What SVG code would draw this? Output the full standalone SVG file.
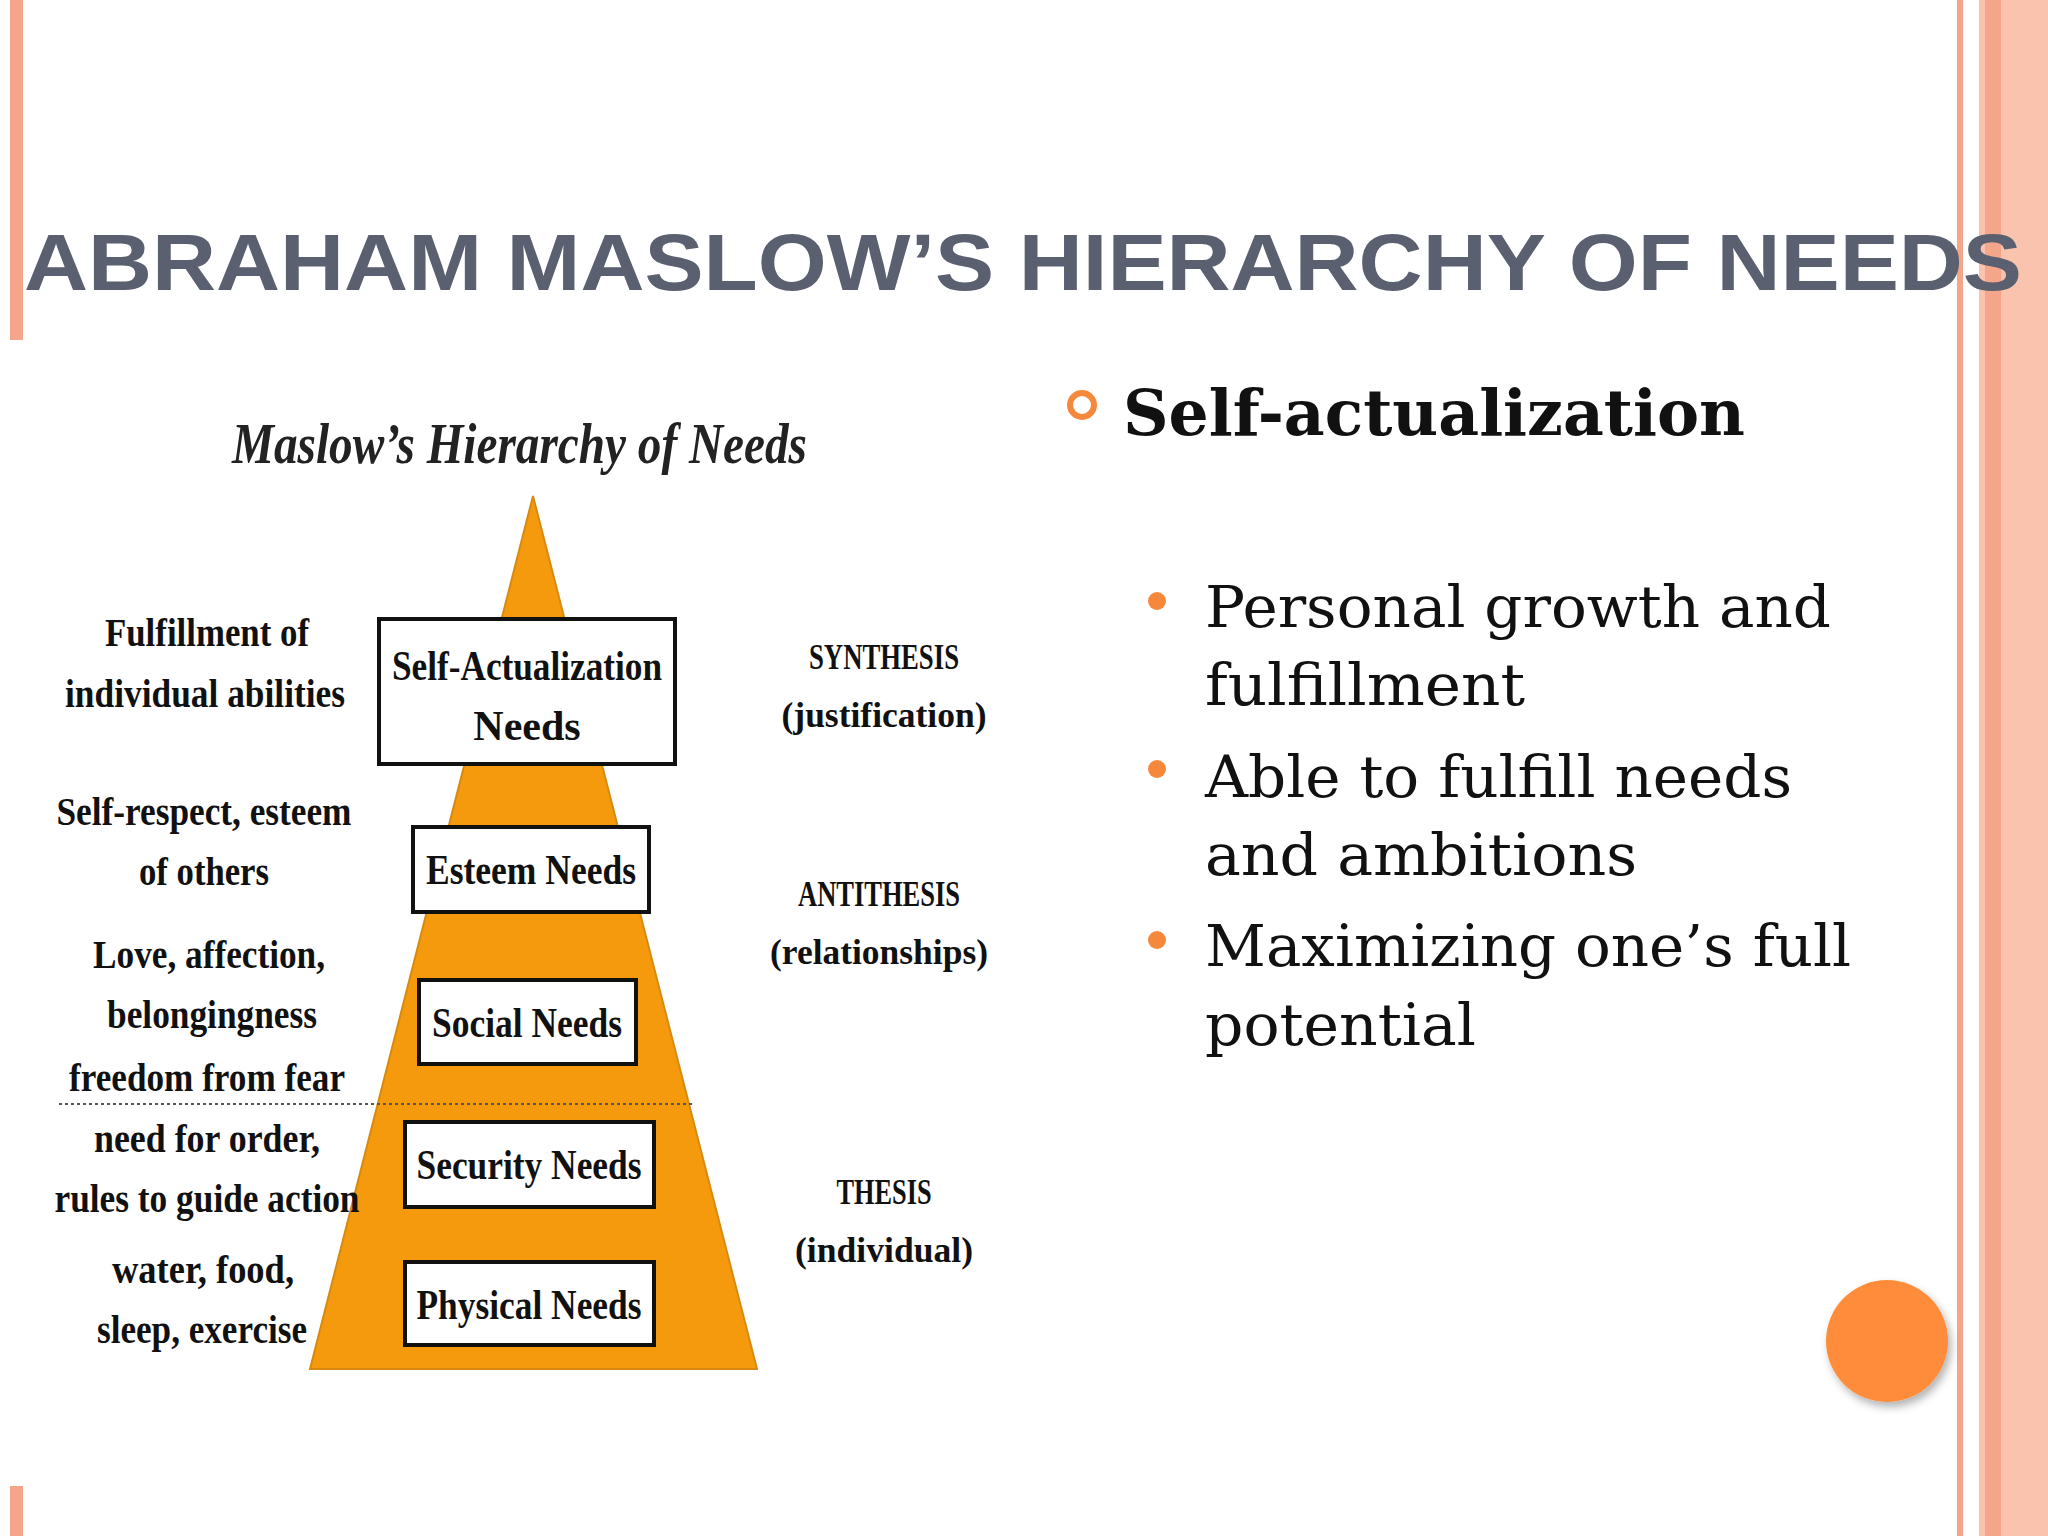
<svg xmlns="http://www.w3.org/2000/svg" width="2048" height="1536" viewBox="0 0 2048 1536">
<defs>
<style>
.lt{font-family:"Liberation Serif",serif;font-weight:bold;font-size:40px;fill:#111;text-anchor:middle}
.rt{font-family:"Liberation Serif",serif;font-weight:bold;font-size:36px;fill:#111;text-anchor:middle}
.bx{fill:#fff;stroke:#111;stroke-width:4}
.bt{font-family:"Liberation Serif",serif;font-weight:bold;font-size:42px;fill:#111;text-anchor:middle}
.sb{font-family:"DejaVu Serif",serif;font-size:58px;fill:#111}
.dot{fill:#F5883A}
</style>
<filter id="sh" x="-30%" y="-30%" width="160%" height="160%"><feDropShadow dx="3" dy="5" stdDeviation="4" flood-opacity="0.3"/></filter>
</defs>
<rect width="2048" height="1536" fill="#fff"/>
<rect x="10" y="0" width="13" height="340" fill="#F4A58A"/>
<rect x="10" y="1486" width="13" height="50" fill="#F4A58A"/>
<rect x="1957" y="0" width="6" height="1536" fill="#F4A58A"/>
<rect x="1979" y="0" width="69" height="1536" fill="#F9C3AE"/>
<rect x="1985" y="0" width="16" height="1536" fill="#F4A58A"/>
<text x="24" y="290" font-family="Liberation Sans,sans-serif" font-weight="bold" font-size="80" fill="#5A6070" textLength="1998" lengthAdjust="spacingAndGlyphs">ABRAHAM MASLOW’S HIERARCHY OF  NEEDS</text>
<g id="diagram">
<text x="232" y="463" font-family="Liberation Serif,serif" font-style="italic" font-weight="bold" font-size="58" fill="#222" textLength="575" lengthAdjust="spacingAndGlyphs">Maslow’s Hierarchy of Needs</text>
<polygon points="533,496 310,1369 757,1369" fill="#F59A0C" stroke="#d88a10" stroke-width="2"/>
<line x1="59" y1="1104" x2="692" y2="1104" stroke="#555" stroke-width="2" stroke-dasharray="3,3"/>
<g id="n1"><rect class="bx" x="379" y="619" width="296" height="145"/><text class="bt" x="527" y="680" textLength="270" lengthAdjust="spacingAndGlyphs">Self-Actualization</text><text class="bt" x="527" y="740">Needs</text></g>
<g id="n2"><rect class="bx" x="413" y="827" width="236" height="85"/><text class="bt" x="531" y="884" textLength="210" lengthAdjust="spacingAndGlyphs">Esteem Needs</text></g>
<g id="n3"><rect class="bx" x="419" y="980" width="217" height="84"/><text class="bt" x="527" y="1037" textLength="190" lengthAdjust="spacingAndGlyphs">Social Needs</text></g>
<g id="n4"><rect class="bx" x="405" y="1122" width="249" height="85"/><text class="bt" x="529" y="1179" textLength="225" lengthAdjust="spacingAndGlyphs">Security Needs</text></g>
<g id="n5"><rect class="bx" x="405" y="1262" width="249" height="83"/><text class="bt" x="529" y="1319" textLength="225" lengthAdjust="spacingAndGlyphs">Physical Needs</text></g>
<g id="left">
<text class="lt" x="207" y="646" textLength="204" lengthAdjust="spacingAndGlyphs">Fulfillment of</text>
<text class="lt" x="205" y="707" textLength="280" lengthAdjust="spacingAndGlyphs">individual abilities</text>
<text class="lt" x="204" y="825" textLength="295" lengthAdjust="spacingAndGlyphs">Self-respect, esteem</text>
<text class="lt" x="204" y="885" textLength="130" lengthAdjust="spacingAndGlyphs">of others</text>
<text class="lt" x="209" y="968" textLength="232" lengthAdjust="spacingAndGlyphs">Love, affection,</text>
<text class="lt" x="212" y="1028" textLength="210" lengthAdjust="spacingAndGlyphs">belongingness</text>
<text class="lt" x="207" y="1091" textLength="276" lengthAdjust="spacingAndGlyphs">freedom from fear</text>
<text class="lt" x="207" y="1152" textLength="226" lengthAdjust="spacingAndGlyphs">need for order,</text>
<text class="lt" x="207" y="1212" textLength="305" lengthAdjust="spacingAndGlyphs">rules to guide action</text>
<text class="lt" x="203" y="1283" textLength="182" lengthAdjust="spacingAndGlyphs">water, food,</text>
<text class="lt" x="202" y="1343" textLength="210" lengthAdjust="spacingAndGlyphs">sleep, exercise</text>
</g>
<g id="right">
<text class="rt" x="884" y="669" textLength="150" lengthAdjust="spacingAndGlyphs">SYNTHESIS</text>
<text class="rt" x="884" y="727" font-size="42" textLength="205" lengthAdjust="spacingAndGlyphs">(justification)</text>
<text class="rt" x="879" y="906" textLength="162" lengthAdjust="spacingAndGlyphs">ANTITHESIS</text>
<text class="rt" x="879" y="964" font-size="42" textLength="218" lengthAdjust="spacingAndGlyphs">(relationships)</text>
<text class="rt" x="884" y="1204" textLength="95" lengthAdjust="spacingAndGlyphs">THESIS</text>
<text class="rt" x="884" y="1262" font-size="42" textLength="178" lengthAdjust="spacingAndGlyphs">(individual)</text>
</g>
</g>
<g id="bullets">
<circle cx="1082" cy="405" r="12" fill="none" stroke="#F5883A" stroke-width="6"/>
<text x="1123" y="435" font-family="DejaVu Serif,serif" font-weight="bold" font-size="64" fill="#111" textLength="622" lengthAdjust="spacingAndGlyphs">Self-actualization</text>
<circle class="dot" cx="1157" cy="601" r="9"/>
<circle class="dot" cx="1157" cy="769" r="9"/>
<circle class="dot" cx="1157" cy="940" r="9"/>
<text class="sb" x="1205" y="627" textLength="626" lengthAdjust="spacingAndGlyphs">Personal growth and</text>
<text class="sb" x="1205" y="705" textLength="320" lengthAdjust="spacingAndGlyphs">fulfillment</text>
<text class="sb" x="1205" y="797" textLength="587" lengthAdjust="spacingAndGlyphs">Able to fulfill needs</text>
<text class="sb" x="1205" y="875" textLength="432" lengthAdjust="spacingAndGlyphs">and ambitions</text>
<text class="sb" x="1205" y="966" textLength="646" lengthAdjust="spacingAndGlyphs">Maximizing one’s full</text>
<text class="sb" x="1205" y="1045" textLength="271" lengthAdjust="spacingAndGlyphs">potential</text>
</g>
<circle cx="1887" cy="1341" r="61" fill="#FF8C3A" filter="url(#sh)"/>
</svg>
